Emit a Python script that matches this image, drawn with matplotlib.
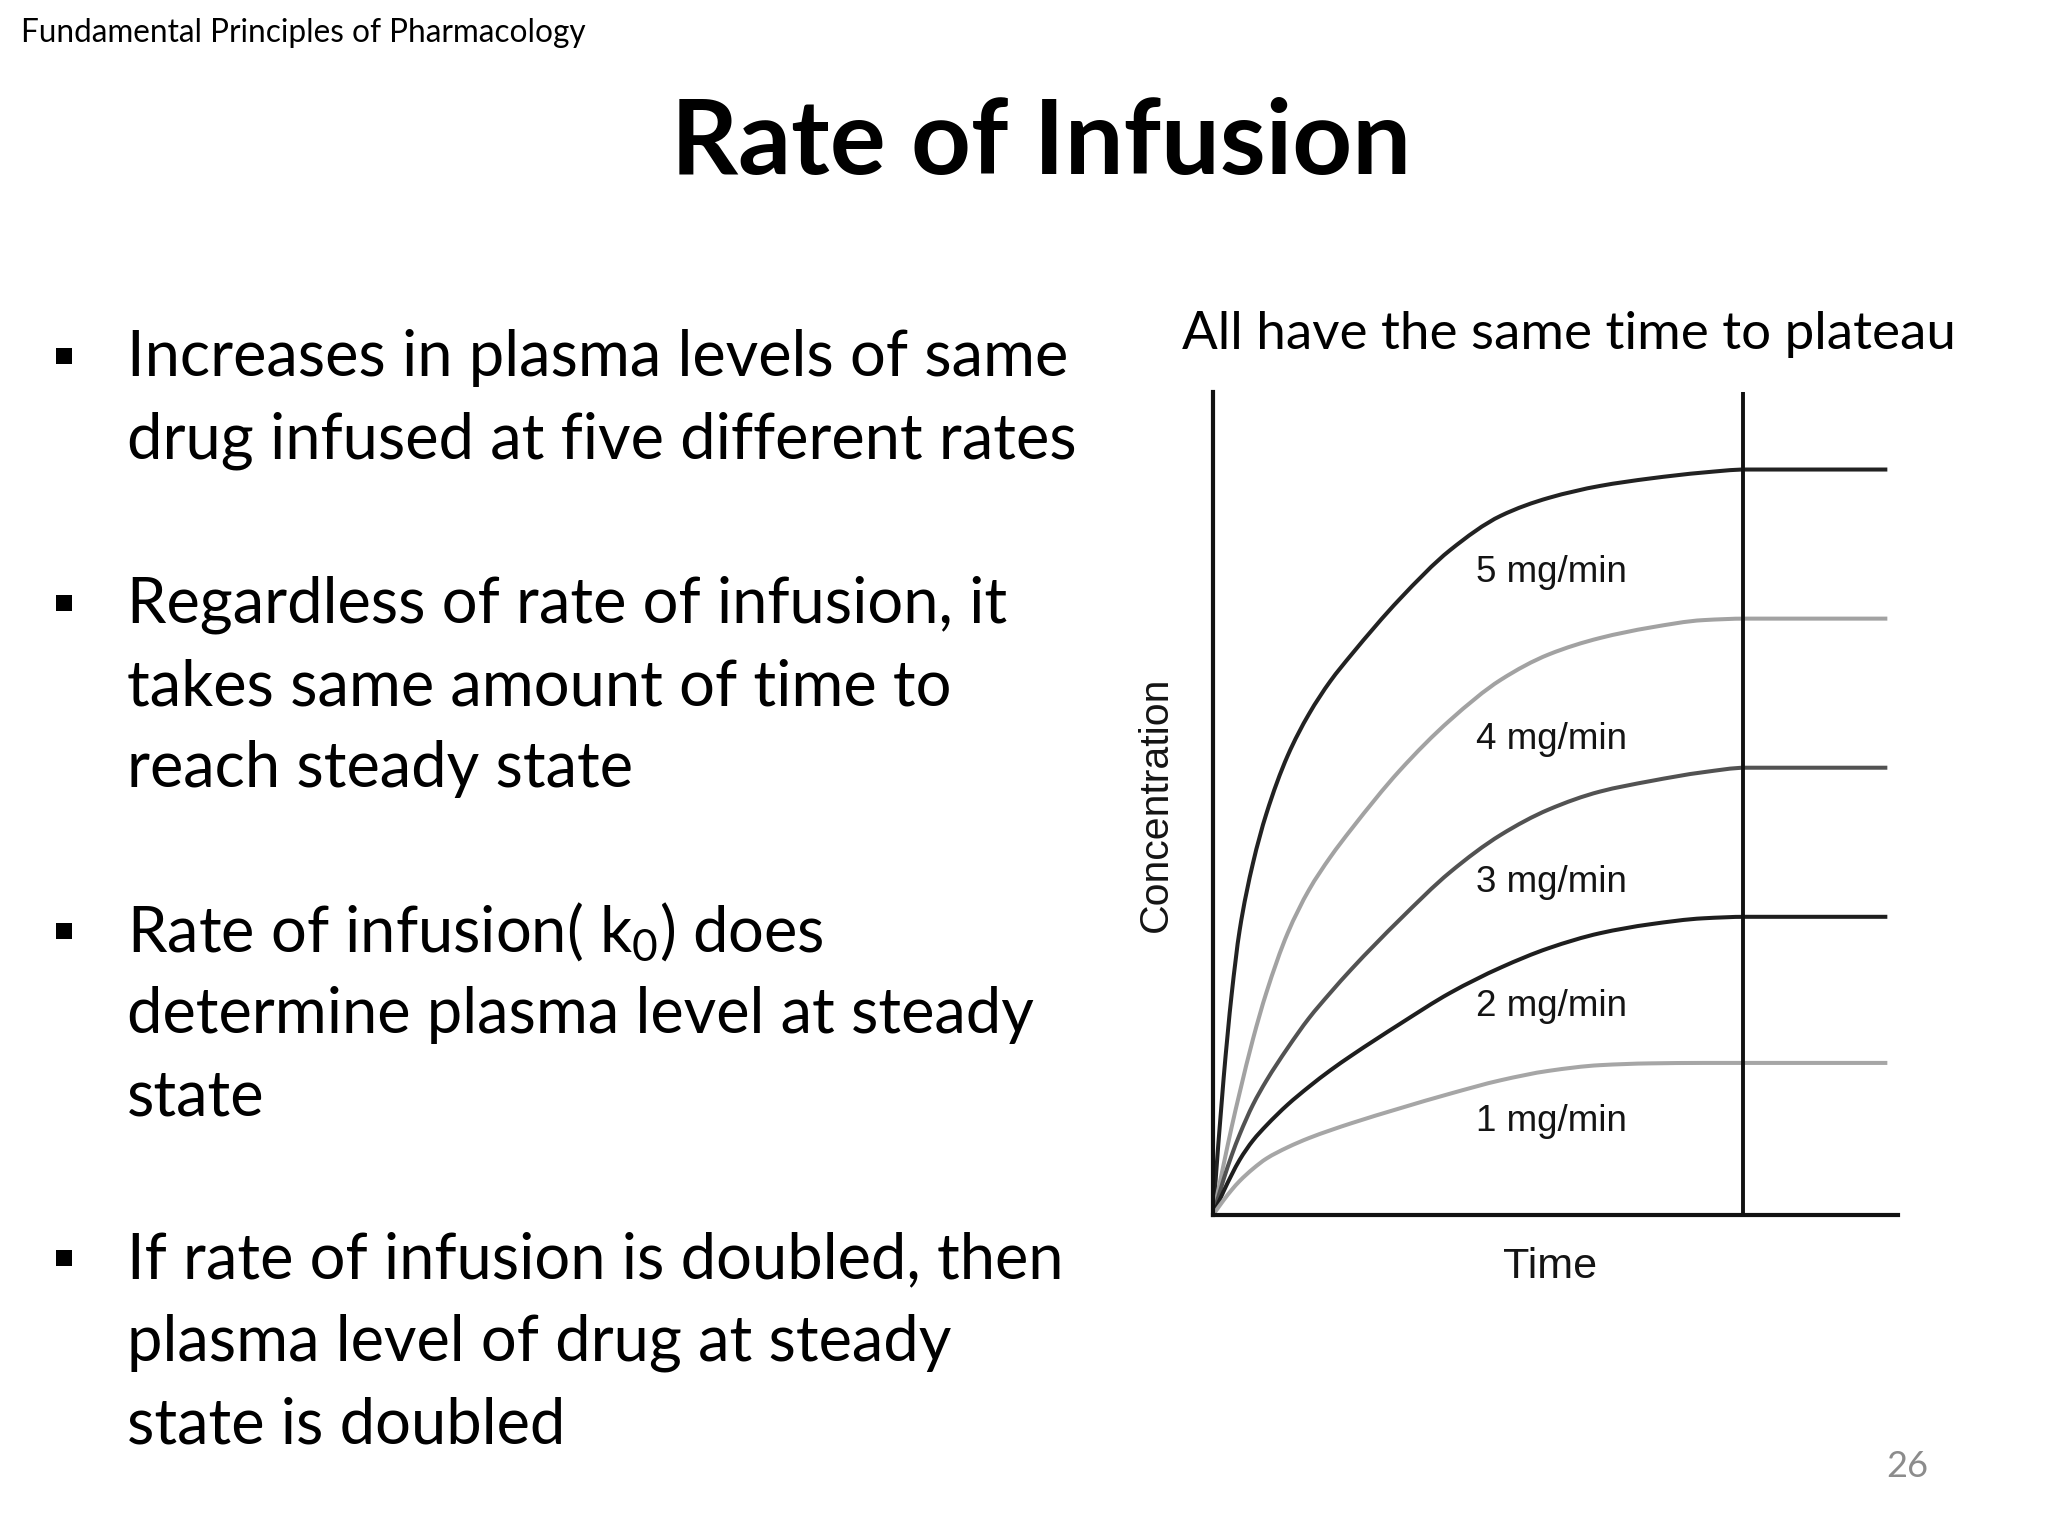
import matplotlib
matplotlib.use("Agg")
import matplotlib.pyplot as plt
import numpy as np
from matplotlib.patches import Rectangle, PathPatch
from matplotlib.path import Path

# values (time in arbitrary units, plateau reached ~10)
time = [0, 0.2, 0.35, 0.5, 0.75, 1.0, 1.4, 1.8, 2.2, 2.6, 3.5, 4.45, 5.4, 6.3, 7.26, 8.2, 9.2, 10.0, 12.65]
conc_5 = [0, 0.92, 1.48, 1.91, 2.36, 2.69, 3.08, 3.36, 3.58, 3.76, 4.13, 4.46, 4.69, 4.81, 4.89, 4.94, 4.98, 5.00, 5.00]
conc_4 = [0, 0.34, 0.59, 0.82, 1.18, 1.49, 1.89, 2.18, 2.40, 2.59, 2.98, 3.32, 3.59, 3.76, 3.87, 3.94, 3.99, 4.00, 4.00]
conc_3 = [0, 0.24, 0.40, 0.54, 0.74, 0.90, 1.12, 1.32, 1.49, 1.65, 1.98, 2.30, 2.55, 2.72, 2.84, 2.91, 2.97, 3.00, 3.00]
conc_2 = [0, 0.16, 0.27, 0.37, 0.50, 0.60, 0.74, 0.86, 0.97, 1.07, 1.28, 1.49, 1.66, 1.79, 1.89, 1.95, 1.99, 2.00, 2.00]
conc_1 = [0, 0.100, 0.168, 0.228, 0.310, 0.378, 0.454, 0.516, 0.568, 0.616, 0.715, 0.814, 0.904, 0.967, 1.005,
          1.017, 1.020, 1.020, 1.020]
rate_labels = ["5 mg/min", "4 mg/min", "3 mg/min", "2 mg/min", "1 mg/min"]
label_y = [4.31, 3.19, 2.23, 1.40, 0.63]
plateau_time = 9.95

bullets = [
    ["Increases in plasma levels of same", "drug infused at five different rates"],
    ["Regardless of rate of infusion, it", "takes same amount of time to", "reach steady state"],
    [r"Rate of infusion( k$_\mathregular{0}$) does", "determine plasma level at steady", "state"],
    ["If rate of infusion is doubled, then", "plasma level of drug at steady", "state is doubled"],
]

plt.rcParams["mathtext.fontset"] = "custom"
plt.rcParams["mathtext.rm"] = "Lato"
plt.rcParams["mathtext.it"] = "Lato:italic"

W, H = 2048, 1536
fig = plt.figure(figsize=(W / 100, H / 100), dpi=100)
fig.patch.set_facecolor("white")
renderer = fig.canvas.get_renderer()


def px(x, y):
    return x / W, 1 - y / H


def put(s, x, y, size, width=None, **kw):
    t = fig.text(*px(x, y), s, fontsize=size, **kw)
    if width:
        w = t.get_window_extent(renderer).width
        t.set_fontsize(size * width / w)
    return t


def smooth_path(x, y):
    # bezier path through the read points, monotone tangents so nothing overshoots
    x = np.asarray(x, float)
    y = np.asarray(y, float)
    h = np.diff(x)
    d = np.diff(y) / h
    m = np.zeros_like(y)
    m[0] = d[0]
    for i in range(1, len(x) - 1):
        if d[i - 1] * d[i] > 0:
            w1 = 2 * h[i] + h[i - 1]
            w2 = h[i] + 2 * h[i - 1]
            m[i] = (w1 + w2) / (w1 / d[i - 1] + w2 / d[i])
    verts = [(x[0], y[0])]
    codes = [Path.MOVETO]
    for i in range(len(h)):
        verts += [(x[i] + h[i] / 3, y[i] + m[i] * h[i] / 3),
                  (x[i + 1] - h[i] / 3, y[i + 1] - m[i + 1] * h[i] / 3),
                  (x[i + 1], y[i + 1])]
        codes += [Path.CURVE4] * 3
    return Path(verts, codes)


# slide texts
put("Fundamental Principles of Pharmacology", 21, 42, 22, width=563, family="Lato", va="baseline")
put("Rate of Infusion", 1041, 174, 80, width=740, family="Lato", weight="bold",
    ha="center", va="baseline")
put("All have the same time to plateau", 1182, 349, 36, width=773, family="Lato", va="baseline")
put("26", 1907, 1477, 26, family="Lato", color="#8c8c8c", ha="center", va="baseline")

first = put(bullets[0][0], 127, 376, 42, width=942, family="Lato", va="baseline")
bsize = first.get_fontsize()
first.remove()

baselines = [[376, 459], [623, 705, 787], [951, 1033, 1115], [1278, 1361, 1443]]
for block, ys in zip(bullets, baselines):
    fig.patches.append(Rectangle(px(56, ys[0] - 12), 16 / W, 16 / H, transform=fig.transFigure,
                                 facecolor="black", edgecolor="none"))
    for line, y in zip(block, ys):
        put(line, 127, y, bsize, family="Lato", va="baseline")

# chart
ax = fig.add_axes([1213 / W, 1 - 1215 / H, 685 / W, 823 / H])
colors = ["#222222", "#a2a2a2", "#525252", "#1e1e1e", "#a6a6a6"]
for c, col in zip([conc_5, conc_4, conc_3, conc_2, conc_1], colors):
    ax.add_patch(PathPatch(smooth_path(time, c), facecolor="none", edgecolor=col,
                           lw=2.9, capstyle="butt", joinstyle="round"))
ax.axvline(plateau_time, color="#111111", lw=2.8)

for lab, y in zip(rate_labels, label_y):
    ax.text(4.93, y, lab, family="Liberation Sans", fontsize=26.5, color="#141414", va="center")

ax.set_xlim(0, 12.85)
ax.set_ylim(0, 5.52)
ax.set_xticks([])
ax.set_yticks([])
for s in ["top", "right"]:
    ax.spines[s].set_visible(False)
for s in ["left", "bottom"]:
    ax.spines[s].set_linewidth(3.0)
    ax.spines[s].set_color("#111111")

put("Concentration", 1156, 804, 29.5, family="Liberation Sans", color="#141414",
    rotation=90, ha="center", va="center")
put("Time", 1550, 1267, 31, family="Liberation Sans", color="#141414", ha="center", va="center")

fig.savefig("out.png", dpi=100, facecolor="white")
